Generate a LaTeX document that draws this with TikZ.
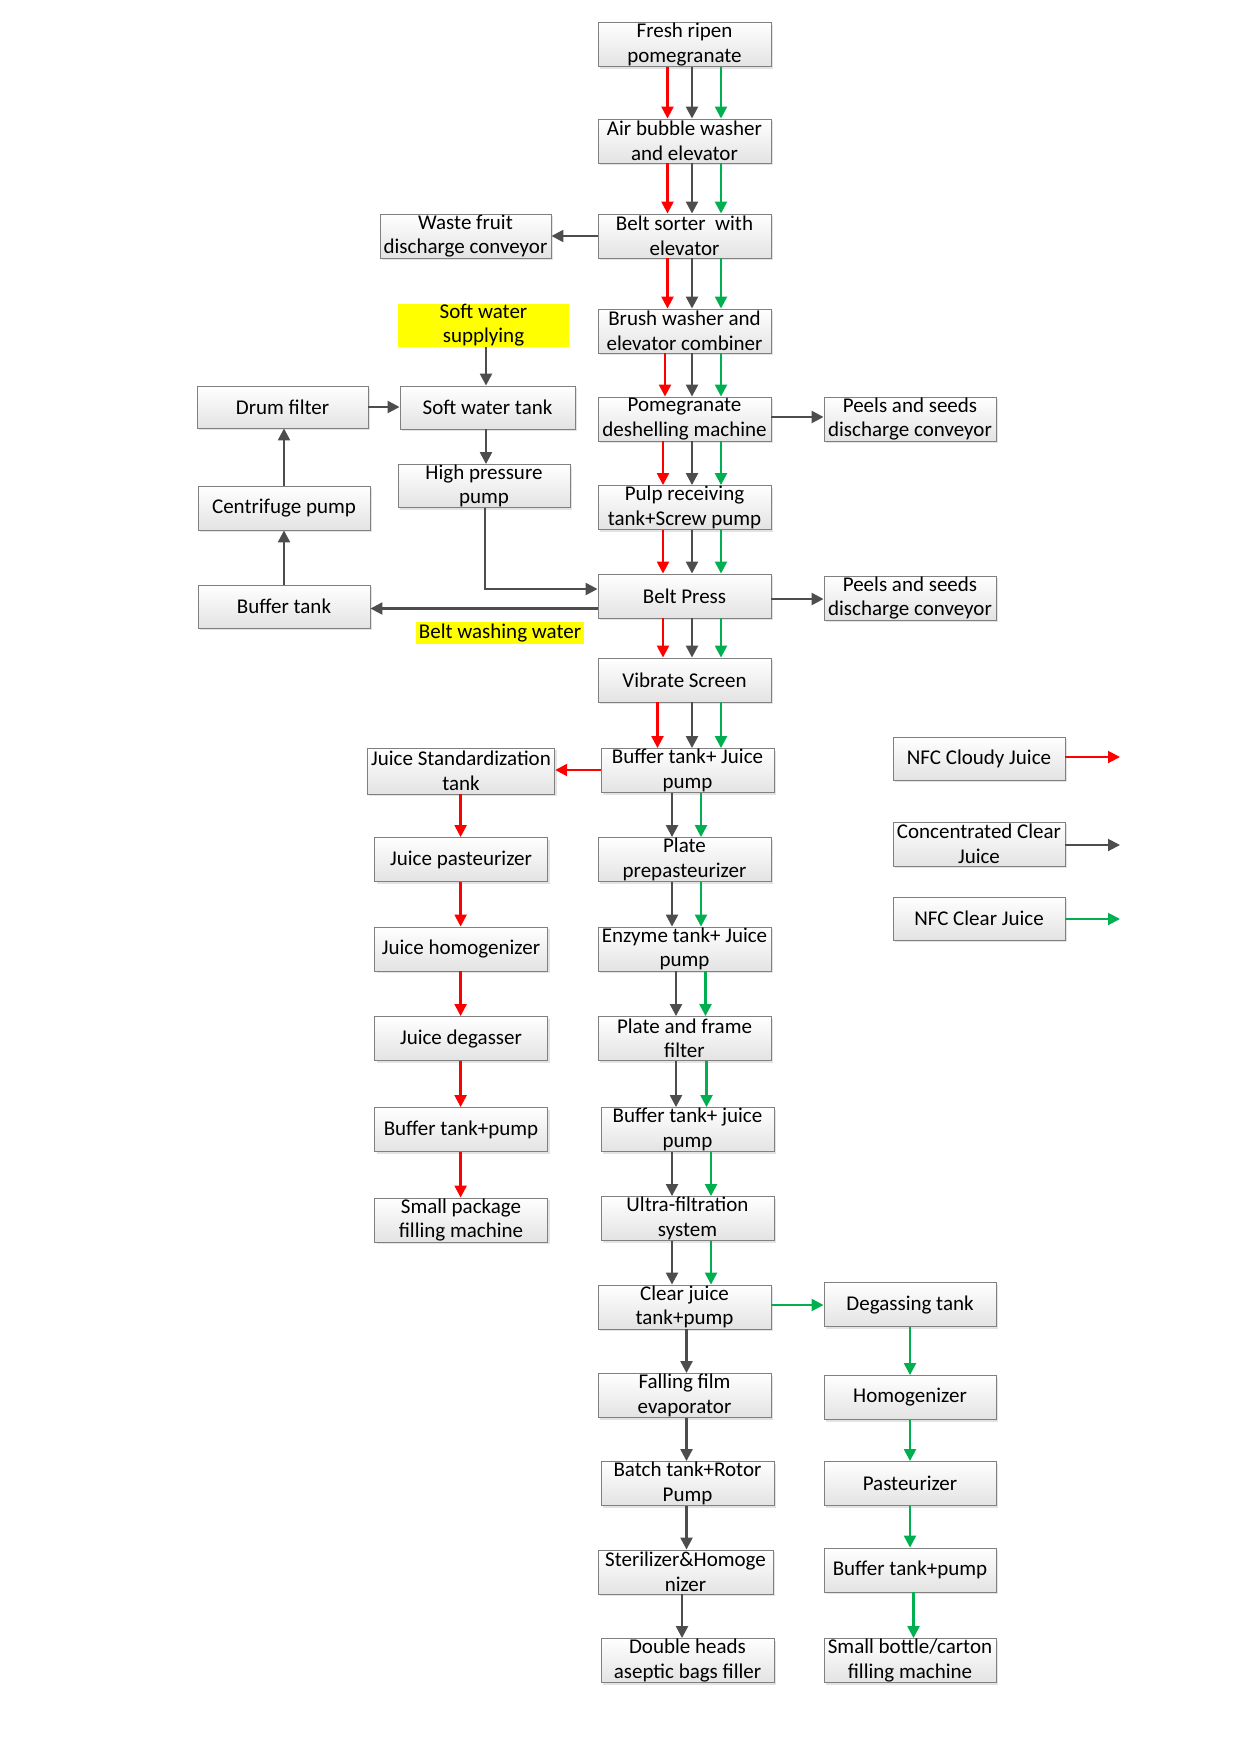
\documentclass[tikz,border=0pt]{standalone}
\usepackage{fontspec}
\setmainfont{Carlito}
\usetikzlibrary{arrows.meta,shadows}
\definecolor{cred}{RGB}{255,0,0}
\definecolor{cgray}{RGB}{77,77,77}
\definecolor{cgreen}{RGB}{0,176,80}
\definecolor{cborder}{RGB}{128,128,128}
\definecolor{cyel}{RGB}{255,255,0}
\newcommand\vfl[4]{\draw[#1] (#2,0 |- #3.south) -- (#2,0 |- #4.north);}
\tikzset{
  txt/.style={font=\fontsize{21}{24.5}\selectfont, align=center},
  box/.style={txt, draw=cborder, line width=0.9pt, top color=white, bottom color=black!11,
    minimum width=173pt, minimum height=44pt, inner sep=0pt,
    drop shadow={opacity=0.22, shadow xshift=2pt, shadow yshift=-2pt}},
  hl/.style={txt, fill=cyel, inner sep=0pt},
  flow/.style={line width=2.4pt, -{Triangle[length=12pt,width=12pt]}},
  rf/.style={flow, draw=cred},
  gf/.style={flow, draw=cgray},
  nf/.style={flow, draw=cgreen},
  legarr/.style={line width=2pt}
}
\begin{document}
\begin{tikzpicture}[x=1pt,y=-1pt]
\useasboundingbox[fill=white] (0,0) rectangle (1240,1754);
% main column
\node[box] (fresh) at (684.5,44.5) {Fresh ripen\\pomegranate};
\node[box] (air) at (684.5,141) {Air bubble washer\\and elevator};
\node[box] (sorter) at (684.5,236) {Belt sorter\ \ with\\elevator};
\node[box] (brush) at (684.5,331) {Brush washer and\\elevator combiner};
\node[box] (deshell) at (684.5,419) {Pomegranate\\deshelling machine};
\node[box] (pulp) at (684.5,507.5) {Pulp receiving\\tank+Screw pump};
\node[box] (press) at (684.5,596) {Belt Press};
\node[box] (vibrate) at (684.5,680) {Vibrate Screen};
\node[box] (buf1) at (687.5,770.5) {Buffer tank+ Juice\\pump};
\node[box] (prepast) at (684.5,859.5) {Plate\\prepasteurizer};
\node[box] (enzyme) at (684.5,949) {Enzyme tank+ Juice\\pump};
\node[box] (pff) at (684.5,1038.5) {Plate and frame\\filter};
\node[box] (buf2) at (687.5,1129.5) {Buffer tank+ juice\\pump};
\node[box] (ultra) at (687.5,1218.5) {Ultra-filtration\\system};
\node[box] (clear) at (684.5,1307) {Clear juice\\tank+pump};
\node[box] (falling) at (684.5,1395.5) {Falling film\\evaporator};
\node[box] (batch) at (687.5,1483.5) {Batch tank+Rotor\\Pump};
\node[box,minimum width=175pt] (steril) at (685.5,1572) {Sterilizer\&Homoge\\nizer};
\node[box] (double) at (687.5,1660.5) {Double heads\\aseptic bags filler};
% left side
\node[box,minimum width=171pt] (waste) at (465.5,236) {Waste fruit\\discharge conveyor};
\node[hl,minimum width=171pt,minimum height=43pt] (softsup) at (483.5,325) {Soft water\\supplying};
\node[box,minimum width=171pt,minimum height=42pt] (drum) at (282.5,407) {Drum filter};
\node[box,minimum width=175pt,minimum height=43pt] (softtank) at (487.5,407.5) {Soft water tank};
\node[box,minimum width=172pt,minimum height=43pt] (hpp) at (484,486) {High pressure\\pump};
\node[box,minimum width=172pt] (centri) at (284,508) {Centrifuge pump};
\node[box,minimum width=172pt,minimum height=43pt] (buftank) at (284,606.5) {Buffer tank};
\node[hl,inner xsep=3pt,inner ysep=2pt] (beltwash) at (500,633) {Belt washing water};
% right side
\node[box,minimum width=172pt] (peels1) at (910,419) {Peels and seeds\\discharge conveyor};
\node[box,minimum width=172pt] (peels2) at (910,598) {Peels and seeds\\discharge conveyor};
\node[box,minimum width=172pt,minimum height=43pt] (cloudy) at (979,758.5) {NFC Cloudy Juice};
\node[box,minimum width=172pt] (conc) at (979,844) {Concentrated Clear\\Juice};
\node[box,minimum width=172pt,minimum height=43pt] (nfcclear) at (979,918.5) {NFC Clear Juice};
\node[box,minimum width=172pt] (degas) at (910,1304.5) {Degassing tank};
\node[box,minimum width=172pt] (homog) at (910,1397.5) {Homogenizer};
\node[box,minimum width=172pt] (past) at (910,1483.5) {Pasteurizer};
\node[box,minimum width=172pt] (bufR) at (910,1570) {Buffer tank+pump};
\node[box,minimum width=172pt] (smallb) at (910,1660.5) {Small bottle/carton\\filling machine};
% red column
\node[box,minimum width=187.5pt,minimum height=46pt] (stdz) at (461,771) {Juice Standardization\\tank};
\node[box] (jpast) at (461,859.5) {Juice pasteurizer};
\node[box] (jhomog) at (461,949) {Juice homogenizer};
\node[box] (jdegas) at (461,1038.5) {Juice degasser};
\node[box] (jbuf) at (461,1129.5) {Buffer tank+pump};
\node[box] (jsmall) at (461,1220) {Small package\\filling machine};

% main three-colour flows
\vfl{rf}{667.5}{fresh}{air}\vfl{gf}{692}{fresh}{air}\vfl{nf}{721}{fresh}{air}
\vfl{rf}{667.5}{air}{sorter}\vfl{gf}{692}{air}{sorter}\vfl{nf}{721}{air}{sorter}
\vfl{rf}{667.5}{sorter}{brush}\vfl{gf}{692}{sorter}{brush}\vfl{nf}{721}{sorter}{brush}
\vfl{rf}{665}{brush}{deshell}\vfl{gf}{692}{brush}{deshell}\vfl{nf}{721}{brush}{deshell}
\vfl{rf}{663}{deshell}{pulp}\vfl{gf}{692}{deshell}{pulp}\vfl{nf}{721}{deshell}{pulp}
\vfl{rf}{663}{pulp}{press}\vfl{gf}{692}{pulp}{press}\vfl{nf}{721}{pulp}{press}
\vfl{rf}{663}{press}{vibrate}\vfl{gf}{692}{press}{vibrate}\vfl{nf}{721}{press}{vibrate}
\vfl{rf}{657.5}{vibrate}{buf1}\vfl{gf}{692}{vibrate}{buf1}\vfl{nf}{721}{vibrate}{buf1}
\vfl{gf}{672}{buf1}{prepast}\vfl{nf}{701}{buf1}{prepast}
\vfl{gf}{672}{prepast}{enzyme}\vfl{nf}{701}{prepast}{enzyme}
\vfl{gf}{676}{enzyme}{pff}\vfl{nf}{705.5}{enzyme}{pff}
\vfl{gf}{676}{pff}{buf2}\vfl{nf}{706.5}{pff}{buf2}
\vfl{gf}{672}{buf2}{ultra}\vfl{nf}{711}{buf2}{ultra}
\vfl{gf}{672}{ultra}{clear}\vfl{nf}{711}{ultra}{clear}
\vfl{gf}{686.5}{clear}{falling}
\vfl{gf}{686.5}{falling}{batch}
\vfl{gf}{686.5}{batch}{steril}
\vfl{gf}{682}{steril}{double}
% red column
\vfl{rf}{460.6}{stdz}{jpast}
\vfl{rf}{460.6}{jpast}{jhomog}
\vfl{rf}{460.6}{jhomog}{jdegas}
\vfl{rf}{460.6}{jdegas}{jbuf}
\vfl{rf}{460.6}{jbuf}{jsmall}
% green right column
\vfl{nf}{910}{degas}{homog}
\vfl{nf}{910}{homog}{past}
\vfl{nf}{910}{past}{bufR}
\vfl{nf}{913.5}{bufR}{smallb}
% side flows
\draw[gf] (sorter.west) -- (waste.east);
\vfl{gf}{486}{softsup}{softtank}
\draw[gf] (drum.east |- 0,407) -- (softtank.west |- 0,407);
\vfl{gf}{486}{softtank}{hpp}
\draw[gf] (485,0 |- hpp.south) |- (press.west |- 0,589);
\draw[gf] (press.west |- 0,608.5) -- (buftank.east |- 0,608.5);
\draw[gf] (284,0 |- buftank.north) -- (284,0 |- centri.south);
\draw[gf] (284,0 |- centri.north) -- (284,0 |- drum.south);
\draw[gf] (deshell.east |- 0,417) -- (peels1.west |- 0,417);
\draw[gf] (press.east |- 0,599) -- (peels2.west |- 0,599);
\draw[rf] (buf1.west |- 0,770) -- (stdz.east |- 0,770);
\draw[nf] (clear.east |- 0,1305) -- (degas.west |- 0,1305);
% legend
\coordinate (l1) at (1120,757);
\coordinate (l2) at (1120,845);
\coordinate (l3) at (1120,919);
\draw[rf,legarr] (cloudy.east |- l1) -- (l1);
\draw[gf,legarr] (conc.east |- l2) -- (l2);
\draw[nf,legarr] (nfcclear.east |- l3) -- (l3);
\end{tikzpicture}
\end{document}
